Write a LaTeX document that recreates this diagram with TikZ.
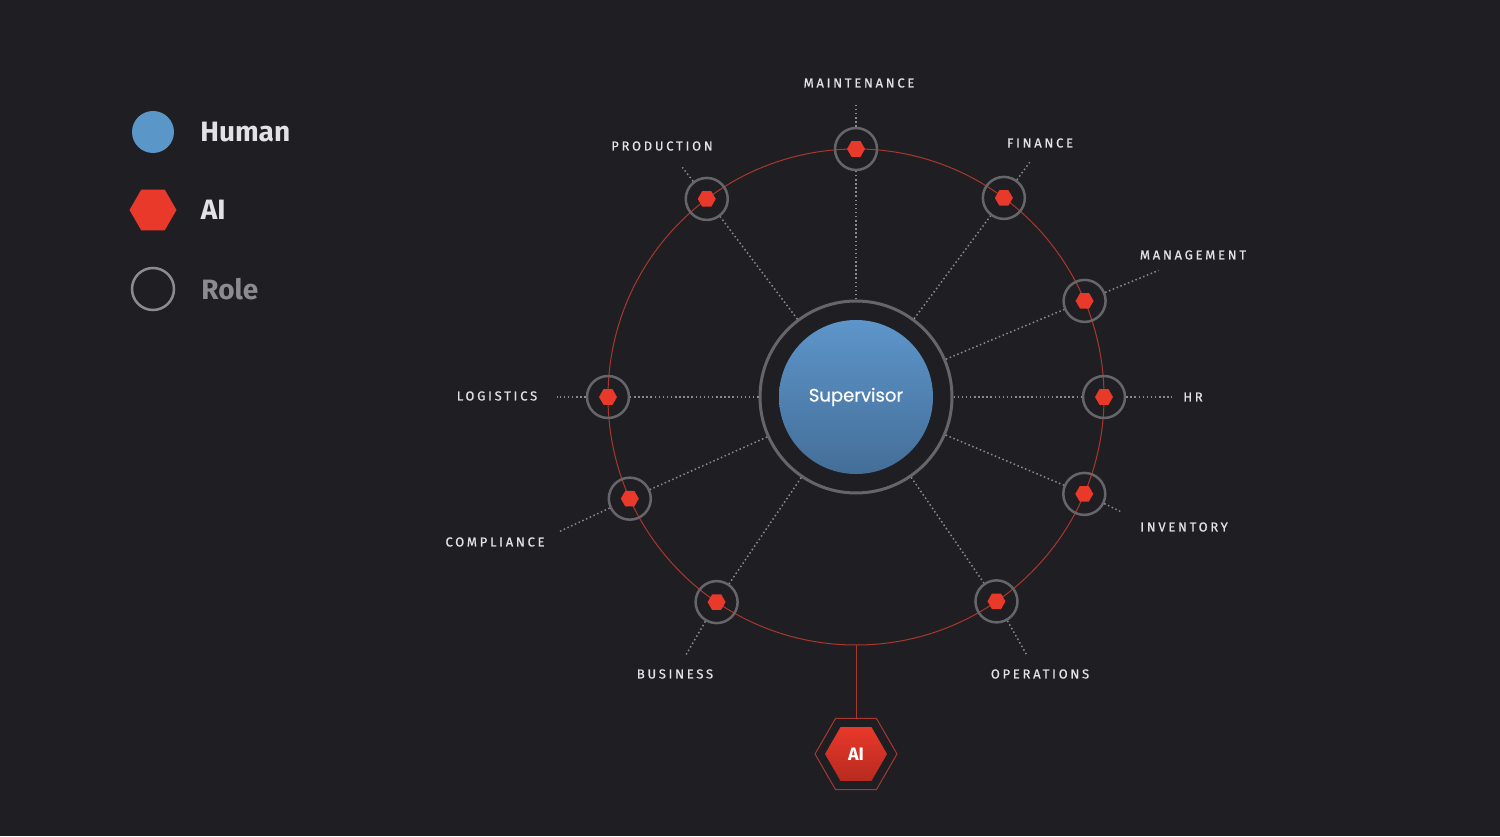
\documentclass[tikz,border=0pt]{standalone}
\usepackage{fontspec}
\usepackage{tikz}
\usetikzlibrary{positioning,shapes.geometric}
\setmainfont{Fira Sans}
\newfontfamily\rolefont[LetterSpace=21,FakeBold=0.7]{Fira Sans}
\newfontfamily\supfont[FakeBold=0.6]{Poppins}
\definecolor{bg}{HTML}{1F1F23}
\definecolor{aired}{HTML}{E8392A}
\definecolor{aidark}{HTML}{B72A1F}
\definecolor{orbitred}{HTML}{A8372D}
\definecolor{ringgray}{HTML}{66666A}
\definecolor{dotgray}{HTML}{8A8A8E}
\definecolor{labelgray}{HTML}{E2E2E4}
\definecolor{rolegray}{HTML}{8C8C90}
\definecolor{humanblue}{HTML}{5B96C8}
\definecolor{suptop}{HTML}{5D95CA}
\definecolor{supbottom}{HTML}{446E98}
\tikzstyle{role} = [circle, draw=ringgray, line width=2.5pt, minimum size=42pt, inner sep=0pt]
\tikzstyle{aidot} = [regular polygon, regular polygon sides=6, fill=aired, minimum size=18pt, inner sep=0pt]
\tikzstyle{dotline} = [draw=dotgray, line width=1.5pt, dash pattern=on 1.5pt off 2.6pt]
\tikzstyle{orbit} = [draw=orbitred, line width=1pt]
\tikzstyle{rolelabel} = [text=labelgray, inner sep=0pt, font=\rolefont\fontsize{13}{13}\selectfont]
\tikzstyle{legendtext} = [text=labelgray, inner sep=0pt, anchor=west, font=\bfseries\fontsize{28}{28}\selectfont]

\begin{document}
\begin{tikzpicture}[x=1pt, y=1pt]
	\fill [bg] (0,0) rectangle (1500,836);
	\useasboundingbox (0,0) rectangle (1500,836);

	% legend
	\node (leghuman) [circle, fill=humanblue, minimum size=42pt, inner sep=0pt] at (153,704) {};
	\node (legai) [regular polygon, regular polygon sides=6, fill=aired, minimum size=47pt, inner sep=0pt] at (153,626) {};
	\node (legrole) [circle, draw=rolegray, line width=2.5pt, minimum size=42pt, inner sep=0pt] at (153,547) {};
	\node (txthuman) [legendtext, right=26pt of leghuman] {Human};
	\node (txtai) [legendtext, right=24pt of legai] {AI};
	\node (txtrole) [legendtext, text=rolegray, right=26pt of legrole] {Role};

	\begin{scope}[shift={(856,439)}]
		\draw [orbit] (0,0) circle (248pt);

		\node (supring) [circle, draw=ringgray, line width=3pt, minimum size=192pt] at (0,0) {};
		\node (sup) [circle, top color=suptop, bottom color=supbottom, minimum size=154pt, text=white, font=\supfont\fontsize{18}{18}\selectfont] at (0,0) {Supervisor};

		% roles on the orbit
		\node (maint) [role] at (90:248) {};
		\node (fin) [role] at (53.4:248) {};
		\node (mgmt) [role] at (22.8:248) {};
		\node (hr) [role] at (0:248) {};
		\node (inv) [role] at (-23:248) {};
		\node (ops) [role] at (-55.5:248) {};
		\node (bus) [role] at (-124.2:248) {};
		\node (comp) [role] at (-155.8:248) {};
		\node (logi) [role] at (180:248) {};
		\node (prod) [role] at (127:248) {};

		\node (maint-ai) [aidot] at (maint) {};
		\node (fin-ai) [aidot] at (fin) {};
		\node (mgmt-ai) [aidot] at (mgmt) {};
		\node (hr-ai) [aidot] at (hr) {};
		\node (inv-ai) [aidot] at (inv) {};
		\node (ops-ai) [aidot] at (ops) {};
		\node (bus-ai) [aidot] at (bus) {};
		\node (comp-ai) [aidot] at (comp) {};
		\node (logi-ai) [aidot] at (logi) {};
		\node (prod-ai) [aidot] at (prod) {};

		% outer ends of the spokes
		\coordinate (maint-end) at (90:293);
		\coordinate (fin-end) at (53.5:292);
		\coordinate (mgmt-end) at (22.7:328);
		\coordinate (hr-end) at (0:316);
		\coordinate (inv-end) at (-23.4:288);
		\coordinate (ops-end) at (-56.5:309);
		\coordinate (bus-end) at (-123.4:309);
		\coordinate (comp-end) at (-155.6:327);
		\coordinate (logi-end) at (180:299);
		\coordinate (prod-end) at (127.1:288);

		\node (maint-lbl) [rolelabel] at (3,314) {MAINTENANCE};
		\node (fin-lbl) [rolelabel] at (184,254) {FINANCE};
		\node (mgmt-lbl) [rolelabel] at (337,142) {MANAGEMENT};
		\node (hr-lbl) [rolelabel] at (337,0) {HR};
		\node (inv-lbl) [rolelabel] at (328,-130) {INVENTORY};
		\node (ops-lbl) [rolelabel] at (184,-277) {OPERATIONS};
		\node (bus-lbl) [rolelabel] at (-181,-277) {BUSINESS};
		\node (comp-lbl) [rolelabel] at (-361,-145) {COMPLIANCE};
		\node (logi-lbl) [rolelabel] at (-359,1) {LOGISTICS};
		\node (prod-lbl) [rolelabel] at (-194,251) {PRODUCTION};

		\draw [dotline] (supring) -- (maint);
		\draw [dotline] (supring) -- (fin);
		\draw [dotline] (supring) -- (mgmt);
		\draw [dotline] (supring) -- (hr);
		\draw [dotline] (supring) -- (inv);
		\draw [dotline] (supring) -- (ops);
		\draw [dotline] (supring) -- (bus);
		\draw [dotline] (supring) -- (comp);
		\draw [dotline] (supring) -- (logi);
		\draw [dotline] (supring) -- (prod);

		\draw [dotline] (maint) -- (maint-end);
		\draw [dotline] (fin) -- (fin-end);
		\draw [dotline] (mgmt) -- (mgmt-end);
		\draw [dotline] (hr) -- (hr-end);
		\draw [dotline] (inv) -- (inv-end);
		\draw [dotline] (ops) -- (ops-end);
		\draw [dotline] (bus) -- (bus-end);
		\draw [dotline] (comp) -- (comp-end);
		\draw [dotline] (logi) -- (logi-end);
		\draw [dotline] (prod) -- (prod-end);

		% the AI below
		\coordinate (orbit-bottom) at (0,-248);
		\node (aiframe) [regular polygon, regular polygon sides=6, draw=orbitred, line width=1pt, minimum size=82pt, inner sep=0pt] at (0,-357) {};
		\node (ai) [regular polygon, regular polygon sides=6, top color=aired, bottom color=aidark, minimum size=62pt, inner sep=0pt, text=white, font=\bfseries\fontsize{18}{18}\selectfont] at (aiframe) {AI};
		\draw [orbit] (orbit-bottom) -- (aiframe);
	\end{scope}
\end{tikzpicture}
\end{document}
